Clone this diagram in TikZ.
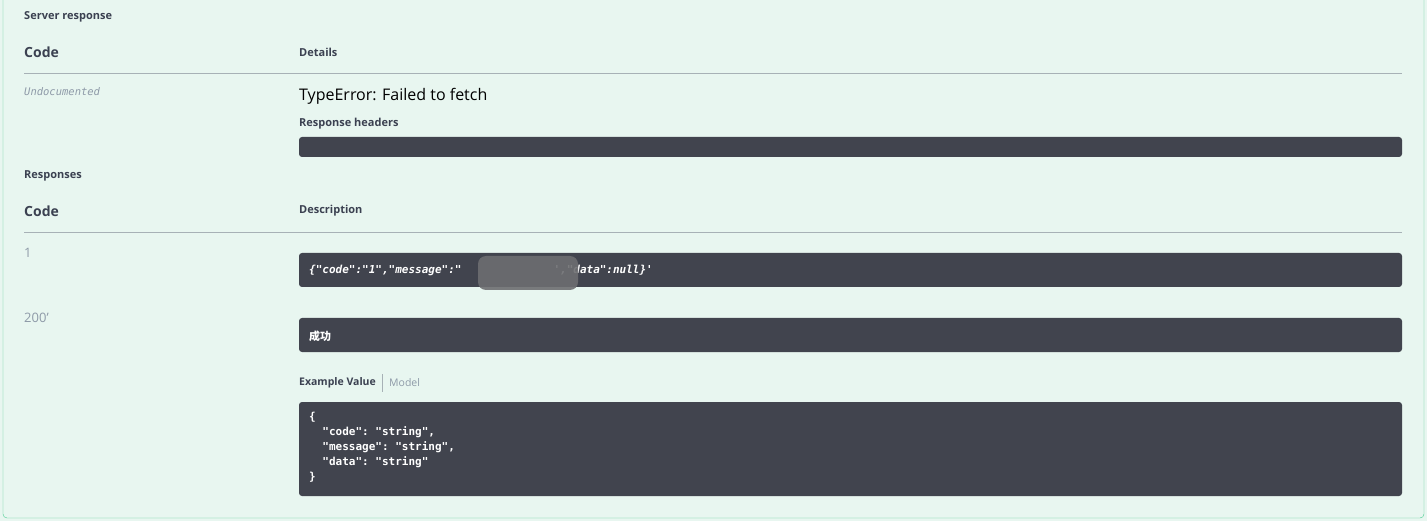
\documentclass[tikz,border=0pt]{standalone}
\usepackage{fontspec}
\setmainfont{Open Sans}
\setmonofont{DejaVu Sans Mono}
\newfontfamily\cjk{Noto Sans CJK SC}
\definecolor{panelbg}{HTML}{E8F6F0}
\definecolor{panelrim}{HTML}{49CC90}
\definecolor{codebg}{HTML}{41444E}
\definecolor{inktext}{HTML}{3B4151}
\definecolor{rulegrey}{HTML}{A7B1B6}
\definecolor{softtext}{HTML}{8E9AA8}
\begin{document}
\begin{tikzpicture}[x=1pt,y=-1pt,
    every node/.style={anchor=west,inner sep=0pt,text=inktext},
    heading/.style={font=\fontsize{11}{13}\selectfont\bfseries},
    colhead/.style={font=\fontsize{14}{16}\selectfont\bfseries},
    codebox/.style={fill=codebg,rounded corners=3pt},
    codetext/.style={text=white,font=\fontsize{11}{15}\selectfont\ttfamily\bfseries}]

    % panel
    \useasboundingbox (0,0) rectangle (1427,521);
    \fill[panelbg] (0,0) rectangle (1427,521);
    \draw[panelrim,fill=panelbg,rounded corners=4pt] (3,-6) rectangle (1424,518);

    % server response
    \node[heading] (srvtitle) at (24,17) {Server response};
    \node[colhead] (srvcode) at (24,52) {Code};
    \node[heading] (srvdetails) at (299,52) {Details};
    \draw[rulegrey] (24,73) -- (1402,73);
    \node[text=softtext,font=\fontsize{10.5}{12}\selectfont\ttfamily\itshape] (undoc) at (24,92) {Undocumented};
    \node[font=\fontsize{16}{18}\selectfont,text=black] (fetcherr) at (299,96) {TypeError: Failed to fetch};
    \node[heading] (resphead) at (299,124) {Response headers};
    \fill[codebox] (299,137) rectangle (1402,157);

    % responses
    \node[heading] (resptitle) at (24,176) {Responses};
    \node[colhead] (respcode) at (24,211) {Code};
    \node[heading] (respdesc) at (299,211) {Description};
    \draw[rulegrey] (24,232) -- (1402,232);

    \node[text=softtext,font=\fontsize{13}{15}\selectfont] (codeone) at (24,253) {1};
    \fill[codebox] (299,253) rectangle (1402,287);
    \node[codetext,font=\fontsize{11}{15}\selectfont\ttfamily\bfseries\itshape] (msgone) at (309,270)
        {\{"code":"1","message":"\hspace{92pt}',"data":null\}'};
    \fill[gray!70!codebg,rounded corners=8pt,opacity=0.9] (478,256) rectangle (578,290);

    \node[text=softtext,font=\fontsize{13}{15}\selectfont] (codeok) at (24,318) {200'};
    \fill[codebox] (299,318) rectangle (1402,352);
    \node[codetext] (msgok) at (309,336) {\cjk\bfseries 成功};

    \node[font=\fontsize{10.5}{12}\selectfont\bfseries] (exval) at (299,383) {Example Value};
    \draw[rulegrey] (382,374) -- (382,392);
    \node[text=softtext,font=\fontsize{10.5}{12}\selectfont] (model) at (389,383) {Model};

    \fill[codebox] (299,402) rectangle (1402,496);
    \node[codetext,anchor=north west,align=left] (example) at (309,412)
        {\{\\
        \ \ "code": "string",\\
        \ \ "message": "string",\\
        \ \ "data": "string"\\
        \}};
\end{tikzpicture}
\end{document}
